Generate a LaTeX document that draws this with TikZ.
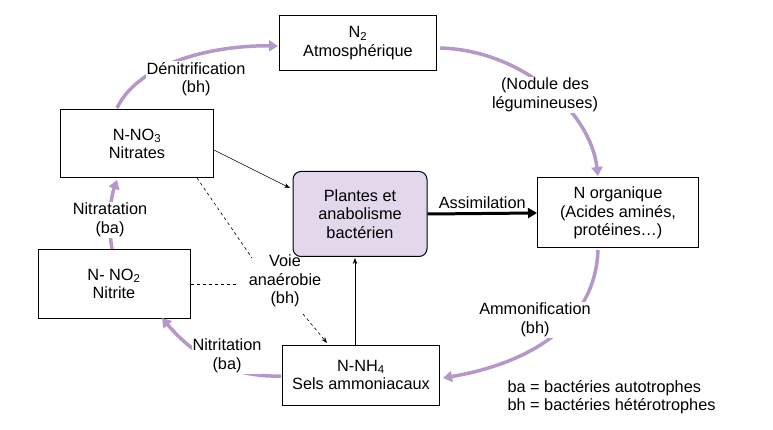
\documentclass[tikz,border=0pt]{standalone}
\usepackage{fontspec}
\setmainfont{Liberation Sans}
\usetikzlibrary{arrows.meta}
\definecolor{cyc}{HTML}{B597C9}
\definecolor{pl}{HTML}{E3D7EC}
\begin{document}
\begin{tikzpicture}[x=1pt,y=-1pt,font=\fontsize{16.3}{18.5}\selectfont,
 box/.style={draw,line width=1pt,align=center,inner sep=0pt},
 lab/.style={align=center,fill=white,inner sep=1pt},
 cyc/.style={draw=cyc,line width=3.5pt,-{Triangle[length=9pt,width=11pt]}},
 thin/.style={-{Stealth[length=6pt]},line width=0.6pt}]
\useasboundingbox (0,0) rectangle (773,430);
\node[box,minimum width=157pt,minimum height=55pt] (n2) at (358,43) {N\textsubscript{2}\\Atmosphérique};
\node[box,minimum width=153pt,minimum height=68pt] (no3) at (137,144) {N-NO\textsubscript{3}\\Nitrates};
\node[box,fill=pl,rounded corners=8pt,minimum width=134pt,minimum height=85pt] (pl) at (360,214) {Plantes et\\anabolisme\\bactérien};
\node[box,minimum width=161pt,minimum height=70pt] (org) at (618,213) {N organique\\(Acides aminés,\\protéines…)};
\node[box,minimum width=152pt,minimum height=68pt] (no2) at (114,284) {N- NO\textsubscript{2}\\Nitrite};
\node[box,minimum width=157pt,minimum height=60pt] (nh4) at (361,375) {N-NH\textsubscript{4}\\Sels ammoniacaux};
\coordinate (a1) at (117,108); \coordinate (a2) at (278,46);
\coordinate (b1) at (440,48); \coordinate (b2) at (598,176);
\coordinate (c1) at (598,250); \coordinate (c2) at (443,378);
\coordinate (d1) at (281,376); \coordinate (d2) at (162,318);
\coordinate (e1) at (112,249); \coordinate (e2) at (117,180);
\draw[cyc] (a1) .. controls (140,60) and (220,45) .. (a2);
\draw[cyc] (b1) .. controls (520,50) and (590,110) .. (b2);
\draw[cyc] (c1) .. controls (595,330) and (520,365) .. (c2);
\draw[cyc] (d1) .. controls (220,378) and (185,345) .. (d2);
\draw[cyc] (e1) .. controls (108,225) and (110,200) .. (e2);
\node[lab] at (196,79) {Dénitrification\\(bh)};
\node[lab] at (545,95) {(Nodule des\\légumineuses)};
\node[lab] at (535,320) {Ammonification\\(bh)};
\node[lab] at (227,356) {Nitritation\\(ba)};
\node[lab] at (110,220) {Nitratation\\(ba)};
\draw[line width=3pt,-{Triangle[length=9pt,width=10pt]}] (pl.east) -- (org.west) node[midway,above,inner sep=3pt] {Assimilation};
\draw[thin] (no3.east |- 0,150) -- (290,188);
\draw[thin] (355,345) -- (355,258);
\node[lab,fill=none] (voie) at (285,281) {Voie\\anaérobie\\(bh)};
\draw[dashed,-{Stealth[length=6pt]},line width=0.6pt] (197,178) -- (252,258) (303,314) -- (327,343);
\draw[dashed,line width=0.6pt] (no2.east) -- (236,284);
\node[align=left,anchor=west] at (504,397) {ba = bactéries autotrophes\\bh = bactéries hétérotrophes};
\end{tikzpicture}
\end{document}
